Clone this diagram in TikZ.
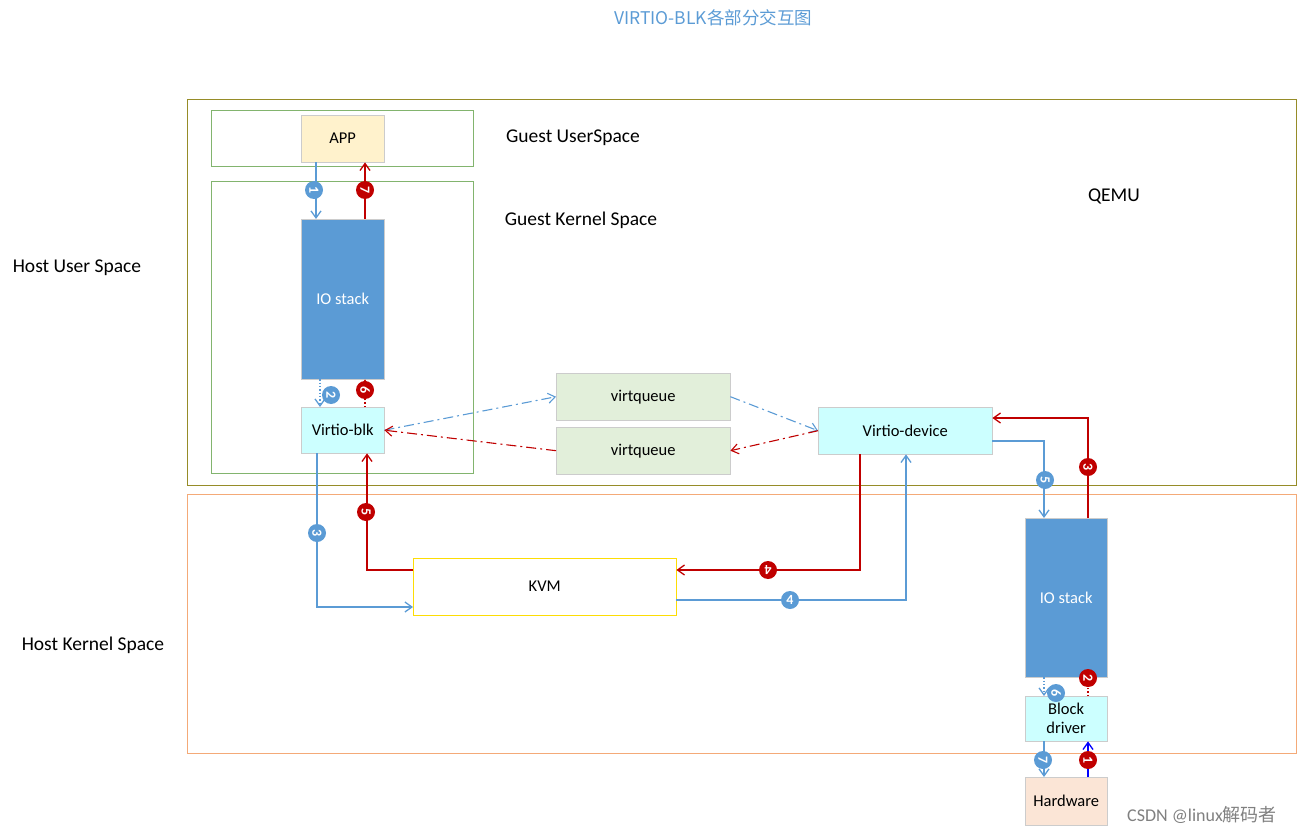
\documentclass[tikz,border=0pt]{standalone}
\usepackage{fontspec}
\setmainfont{Carlito}
\newfontfamily\cjk{Noto Sans CJK SC}
\usetikzlibrary{arrows.meta}
\definecolor{bl}{RGB}{91,155,213}
\definecolor{rd}{RGB}{192,0,0}
\definecolor{ol}{RGB}{150,140,40}
\definecolor{org}{RGB}{244,170,120}
\definecolor{gr}{RGB}{130,180,110}
\definecolor{appc}{RGB}{255,242,204}
\definecolor{vqc}{RGB}{226,239,218}
\definecolor{cyc}{RGB}{204,255,255}
\definecolor{hwc}{RGB}{251,229,214}
\tikzset{
 bx/.style args={#1/#2}{draw=gray!40, fill=#1, font=\fontsize{16.5}{19}\selectfont, text=#2, anchor=north west, inner sep=0pt},
 lab/.style={font=\fontsize{19.5}{22}\selectfont},
 ba/.style={draw=bl, line width=1.3pt, -{Straight Barb[length=7pt,width=10pt]}},
 ra/.style={draw=rd, line width=1.3pt, -{Straight Barb[length=7pt,width=10pt]}},
 dd/.style={line width=1.1pt, dash pattern=on 10pt off 4pt on 2pt off 4pt},
 num/.style={circle, fill=#1, text=white, inner sep=0pt, minimum size=18pt, font=\bfseries\fontsize{14}{14}\selectfont},
}
\begin{document}
\begin{tikzpicture}[x=1pt,y=-1pt]
\useasboundingbox (0,0) rectangle (1303,834);
\node[text=bl, font=\cjk\fontsize{17.5}{20}\selectfont] (title) at (713,18) {VIRTIO-BLK各部分交互图};
\draw[ol, line width=1pt] (187,100) rectangle (1296,485);
\draw[org, line width=1pt] (187,494) rectangle (1296,753);
\draw[gr] (211,110) rectangle (473,166);
\draw[gr] (211,181) rectangle (473,473);
\node[lab] (gus) at (573,138) {Guest UserSpace};
\node[lab] (gks) at (581,220) {Guest Kernel Space};
\node[lab] (qemu) at (1114,196) {QEMU};
\node[lab] (hus) at (77,268) {Host User Space};
\node[lab] (hks) at (93,645) {Host Kernel Space};
\node[bx={appc/black}, minimum width=83pt, minimum height=47pt] (app) at (301,115) {APP};
\node[bx={bl/white}, minimum width=83pt, minimum height=160pt] (ios) at (301,219) {IO stack};
\node[bx={cyc/black}, minimum width=83pt, minimum height=46pt] (vb) at (301,407) {Virtio-blk};
\node[bx={vqc/black}, minimum width=174pt, minimum height=47pt] (vq1) at (556,373) {virtqueue};
\node[bx={vqc/black}, minimum width=174pt, minimum height=47pt] (vq2) at (556,427) {virtqueue};
\node[bx={cyc/black}, minimum width=174pt, minimum height=47pt] (vd) at (818,407) {Virtio-device};
\node[bx={white/black}, draw=yellow!80!orange, minimum width=263pt, minimum height=57pt] (kvm) at (413,558) {KVM};
\node[bx={bl/white}, minimum width=82pt, minimum height=159pt] (hio) at (1025,518) {IO stack};
\node[bx={cyc/black}, minimum width=82pt, minimum height=45pt, align=center] (bd) at (1025,696) {Block\\driver};
\node[bx={hwc/black}, minimum width=82pt, minimum height=48pt] (hw) at (1025,777) {Hardware};
\node[text=gray, font=\fontsize{18}{20}\selectfont] (csdn) at (1202,815) {CSDN @linux{\cjk 解码者}};
% guest arrows
\draw[ba] (app.south west -| 316,0) -- (ios.north west -| 316,0);
\draw[ra] (ios.north west -| 365,0) -- (app.south west -| 365,0);
\draw[ba, dotted] (ios.south west -| 320,0) -- (vb.north west -| 320,0);
\draw[ra, dotted] (vb.north west -| 365,0) -- (ios.south west -| 365,0);
\node[num=bl, rotate=-90] (n1) at (314,190) {1};
\node[num=rd, rotate=-90] (n7) at (365,190) {7};
\node[num=bl, rotate=-90] (n2) at (331,395) {2};
\node[num=rd, rotate=-90] (n6) at (365,390) {6};
% dash-dot
\draw[ba, dd] (vb.east) -- (vq1.west);
\draw[ba, dd] (vq1.east) -- (vd.west);
\draw[ra, dd] (vd.west) -- (vq2.east);
\draw[ra, dd] (vq2.west) -- (vb.east);
% KVM
\draw[ba] (vb.south west -| 317,0) -- (317,607) -- (kvm.west |- 0,607);
\draw[ra] (kvm.west |- 0,570) -- (367,570) -- (vb.south west -| 367,0);
\draw[ba] (kvm.east |- 0,600) -- (906,600) -- (vd.south west -| 906,0);
\draw[ra] (vd.south west -| 860,0) -- (860,570) -- (kvm.east |- 0,570);
\node[num=bl, rotate=-90] (n3) at (317,533) {3};
\node[num=rd, rotate=-90] (n5) at (366,512) {5};
\node[num=bl] (n4) at (790,600) {4};
\node[num=rd, rotate=180] (n4r) at (768,570) {4};
% host
\draw[ba] (vd.east |- 0,441) -- (1044,441) -- (hio.north west -| 1044,0);
\draw[ra] (hio.north west -| 1088,0) -- (1088,418) -- (vd.east |- 0,418);
\node[num=bl, rotate=-90] (n5b) at (1045,480) {5};
\node[num=rd, rotate=-90] (n3r) at (1088,467) {3};
\draw[ba, dotted] (hio.south west -| 1044,0) -- (bd.north west -| 1044,0);
\draw[ra, dotted] (bd.north west -| 1088,0) -- (hio.south west -| 1088,0);
\node[num=bl, rotate=-90] (n6b) at (1056,693) {6};
\node[num=rd, rotate=-90] (n2b) at (1088,678) {2};
\draw[ba] (bd.south west -| 1044,0) -- (hw.north west -| 1044,0);
\draw[ra, draw=blue] (hw.north west -| 1088,0) -- (bd.south west -| 1088,0);
\node[num=bl, rotate=-90] (n7b) at (1043,760) {7};
\node[num=rd, rotate=-90] (n1b) at (1088,760) {1};
\end{tikzpicture}
\end{document}
